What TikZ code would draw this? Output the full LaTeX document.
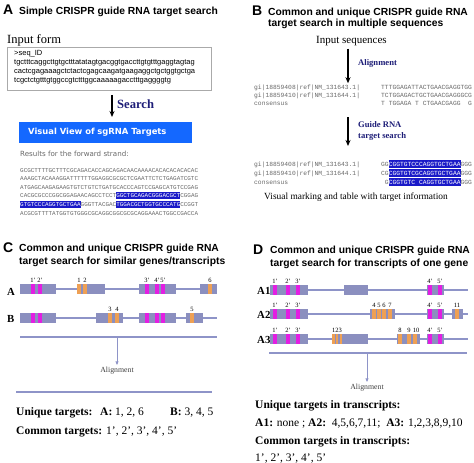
\documentclass[tikz,border=0pt]{standalone}
\usepackage{fontspec}
\setmainfont{Liberation Serif}
\setsansfont{Liberation Sans}
\setmonofont{Liberation Mono}
\newfontfamily\verdana{DejaVu Sans}
\usetikzlibrary{arrows.meta}

\definecolor{exonblue}{RGB}{139,143,191}
\definecolor{trackblue}{RGB}{142,148,200}
\definecolor{commonpink}{RGB}{226,30,226}
\definecolor{uniqueorange}{RGB}{238,160,84}
\definecolor{viewblue}{RGB}{20,104,255}
\definecolor{hitblue}{RGB}{26,26,200}
\definecolor{labelnavy}{RGB}{30,30,120}
\definecolor{seqgray}{RGB}{105,105,105}
\definecolor{boxgray}{RGB}{170,170,170}

\newcommand\hit[1]{{\fboxsep=0pt\colorbox{hitblue}{\rule[-1.5pt]{0pt}{7.3pt}\textcolor{white}{#1}}}}

\tikzset{
  tag/.style={anchor=base west, inner sep=0, font=\sffamily\bfseries\fontsize{14}{14}\selectfont},
  title/.style={anchor=base west, inner sep=0, font=\sffamily\bfseries\fontsize{10.3}{12}\selectfont},
  txt/.style={anchor=base west, inner sep=0},
  formline/.style={txt, font=\sffamily\fontsize{7.5}{7.5}\selectfont},
  seqline/.style={txt, text=seqgray, font=\ttfamily\fontsize{5.93}{5.93}\selectfont},
  alnline/.style={txt, text=seqgray, font=\ttfamily\fontsize{6.3}{6.3}\selectfont},
  steplabel/.style={txt, text=labelnavy, font=\bfseries\fontsize{8.6}{8.6}\selectfont},
  bigarrow/.style={-{Stealth[length=6pt,width=5pt]}, line width=1.1pt},
  exon/.style={fill=exonblue},
  track/.style={draw=trackblue, line width=1.1pt},
  common/.style={fill=commonpink},
  unique/.style={fill=uniqueorange},
  sitelabel/.style={anchor=base, inner sep=0, font=\fontsize{6.5}{6.5}\selectfont},
  rowlabel/.style={txt, font=\bfseries\fontsize{10.8}{10.8}\selectfont},
  alnlabel/.style={anchor=base, inner sep=0, text=black!75, font=\fontsize{7.8}{7.8}\selectfont},
  smallarrow/.style={draw=trackblue, line width=0.9pt, -{Latex[length=4pt,width=3.5pt]}},
  result/.style={txt, font=\fontsize{11.5}{11.5}\selectfont},
  viewbar/.style={anchor=north west, fill=viewblue, text=white, minimum height=21pt,
    text width=155pt, inner xsep=9pt, inner ysep=0, align=left,
    font=\verdana\bfseries\fontsize{8.4}{8.4}\selectfont}
}

\begin{document}
\begin{tikzpicture}[x=1pt,y=-1pt]
  \useasboundingbox[fill=white] (0,0) rectangle (474,463);

  % A: simple search
  \node[tag] (tagA) at (3,14) {A};
  \node[title] (ttlA) at (19,14) {Simple CRISPR guide RNA target search};
  \node[txt, font=\fontsize{12.5}{12.5}\selectfont] (formttl) at (7,43) {Input form};
  \node[draw=boxgray, line width=0.8pt, anchor=north west, minimum width=204pt, minimum height=43pt, inner sep=0] (form) at (7,47) {};
  \foreach \s [count=\i from 0] in {>seq\_ID,
      tgctttcaggcttgtgctttatatagtgacggtgaccttgtgtttgaggtagtag,
      cactcgagaaagctctactcgagcaagatgaagaggctgctggtgctga,
      tcgctctgtttgtggccgtctttggcaaaaagacctttgaggggtg}
    \node[formline] (fl\i) at (14,55+9*\i) {\s};

  \node[viewbar] (view) at (19,122) {Visual View of sgRNA Targets};
  \coordinate (srcharrow) at (112,0);
  \draw[bigarrow, shorten <=4pt, shorten >=5pt] (form.south -| srcharrow) -- (view.north -| srcharrow);
  \node[txt, text=labelnavy, font=\bfseries\fontsize{12.6}{12.6}\selectfont] (srch) at (117,108) {Search};

  \node[txt, text=seqgray, font=\verdana\fontsize{7.1}{7.1}\selectfont] (fwd) at (20,156) {Results for the forward strand:};
  \foreach \s [count=\i from 0] in {GCGCTTTTGCTTTCGCAGACACCAGCAGACAACAAAACACACACACACAC,
      AAAGCTACAAAGGATTTTTTGGAGGCGCGCTCGAATTCTCTGAGATCGTC,
      ATGAGCAAGAGAAGTGTCTGTCTGATGCACCCAGTCCGAGCATGTCCGAG,
      CACGCGCCCGGCGGAGAACAGCCTCCT\hit{GGCTGCAGACGGGACGCT}CGGAG,
      \hit{GTGTCCCAGGTGCTGAA}GGGTTACGAC\hit{TGGACGCTGGTGCCCATG}CCGGT,
      ACGCGTTTTATGGTGTGGGCGCAGGCGGCGCGCAGGAAACTGGCCGACCA}
    \node[seqline] (sq\i) at (20,172+8.6*\i) {\s};

  % B: multiple sequences
  \node[tag] (tagB) at (252,15) {B};
  \node[title] (ttlBa) at (268,15) {Common and unique CRISPR guide RNA};
  \node[title] (ttlBb) at (268,27) {target search in multiple sequences};
  \node[txt, font=\fontsize{11}{11}\selectfont] (insq) at (316,43) {Input sequences};
  \node[steplabel] (alnstep) at (358,65) {Alignment};

  \node[alnline] (gaone) at (254,89) {gi|18859408|ref|NM\_131643.1|};
  \node[alnline] (gatwo) at (254,97) {gi|18859410|ref|NM\_131644.1|};
  \node[alnline] (gacons) at (254,105) {consensus};
  \node[alnline] (saone) at (381,89) {TTTGGAGATTACTGAACGAGGTGG};
  \node[alnline] (satwo) at (381,97) {TCTGGAGACTGCTGAACGAGGGCG};
  \node[alnline] (sacons) at (381,105) {T\ TGGAGA\ T\ CTGAACGAGG\ \ G};

  \coordinate (alnarrow) at (348,0);
  \draw[bigarrow, shorten <=3pt, shorten >=1pt] (insq.south -| alnarrow) -- (gaone.north -| alnarrow);

  \node[steplabel] (gsone) at (358,127) {Guide RNA};
  \node[steplabel] (gstwo) at (358,138) {target search};

  \node[alnline] (gbone) at (254,166) {gi|18859408|ref|NM\_131643.1|};
  \node[alnline] (gbtwo) at (254,175) {gi|18859410|ref|NM\_131644.1|};
  \node[alnline] (gbcons) at (254,184) {consensus};
  \node[alnline] (sbone) at (381,166) {GG\hit{CGGTGTCCCAGGTGCTGAA}GGG};
  \node[alnline] (sbtwo) at (381,175) {CG\hit{CGGTGTCGCAGGTGCTGAA}GGG};
  \node[alnline] (sbcons) at (381,184) {\ G\hit{CGGTGTC\ CAGGTGCTGAA}GGG};
  \draw[bigarrow, shorten <=12pt, shorten >=14pt] (sacons.south -| alnarrow) -- (sbone.north -| alnarrow);

  \node[txt, font=\fontsize{9.4}{9.4}\selectfont] (marking) at (264,199) {Visual marking and table with target information};

  % C: similar genes
  \node[tag] (tagC) at (3,252) {C};
  \node[title] (ttlCa) at (19,251) {Common and unique CRISPR guide RNA};
  \node[title] (ttlCb) at (19,264) {target search for similar genes/transcripts};

  \node[rowlabel] (rowA) at (7,295) {A};
  \draw[track] (20,289) -- (217,289);
  \foreach \a/\b in {20/56,77/105,139/176,200/217}
    \fill[exon] (\a,284) rectangle (\b,294);
  \foreach \x in {33,40,147,157,163}
    \fill[common] (\x-1.8,284) rectangle (\x+1.8,294);
  \foreach \x in {79,85,210}
    \fill[unique] (\x-1.8,284) rectangle (\x+1.8,294);
  \foreach \x/\t [count=\k] in {33/1',40/2',79/1,85/2,147/3',157/4',163/5',210/6}
    \node[sitelabel] (siteA\k) at (\x,282) {\t};

  \node[rowlabel] (rowB) at (7,322) {B};
  \draw[track] (20,318) -- (217,318);
  \foreach \a/\b in {20/56,96/123,139/176,186/203}
    \fill[exon] (\a,313) rectangle (\b,323);
  \foreach \x in {33,40,147,157,163}
    \fill[common] (\x-1.8,313) rectangle (\x+1.8,323);
  \foreach \x in {110,117,192}
    \fill[unique] (\x-1.8,313) rectangle (\x+1.8,323);
  \foreach \x/\t [count=\k] in {110/3,117/4,192/5}
    \node[sitelabel] (siteB\k) at (\x,311) {\t};

  \draw[track] (20,337) -- (217,337);
  \coordinate (brC) at (117,337);
  \node[alnlabel] (alnC) at (117,372) {Alignment};
  \draw[smallarrow, shorten >=1pt] (brC) -- (alnC.north);
  \draw[track, line width=2pt] (16,392) -- (212,392);

  \node[result] (uniqC) at (16,415) {\textbf{Unique targets:}};
  \node[result] (uniqCA) at (100,415) {\textbf{A:} 1, 2, 6};
  \node[result] (uniqCB) at (170,415) {\textbf{B:} 3, 4, 5};
  \node[result] (commC) at (16,434) {\textbf{Common targets:}};
  \node[result] (commClist) at (106,434) {1', 2', 3', 4', 5'};

  % D: transcripts of one gene
  \node[tag] (tagD) at (253,254) {D};
  \node[title] (ttlDa) at (270,253) {Common and unique CRISPR guide RNA};
  \node[title] (ttlDb) at (270,266) {target search for transcripts of one gene};

  \foreach \y/\r [count=\n] in {290/A1,314/A2,339/A3} {
    \node[rowlabel] (row\n) at (257,\y+4) {\r};
    \draw[track] (270,\y) -- (468,\y);
    \fill[exon] (270,\y-5) rectangle (308,\y+5);
    \fill[exon] (427,\y-5) rectangle (444,\y+5);
    \foreach \x in {275,288,298,430,440}
      \fill[common] (\x-1.8,\y-5) rectangle (\x+1.8,\y+5);
    \foreach \x/\t [count=\k] in {275/1',288/2',298/3',430/4',440/5'}
      \node[sitelabel] (siteD\n\k) at (\x,\y-7) {\t};
  }
  % A1
  \fill[exon] (344,285) rectangle (368,295);
  % A2
  \fill[exon] (370,309) rectangle (395,319);
  \fill[exon] (452,309) rectangle (463,319);
  \foreach \x in {374,379,384,390,457}
    \fill[unique] (\x-1.8,309) rectangle (\x+1.8,319);
  \foreach \x/\t [count=\k] in {374/4,379/5,384/6,390/7,457/11}
    \node[sitelabel] (siteE\k) at (\x,307) {\t};
  % A3
  \fill[exon] (332,334) rectangle (368,344);
  \fill[exon] (397,334) rectangle (420,344);
  \foreach \x in {333.3,337,340.7}
    \fill[unique] (\x-1.2,334) rectangle (\x+1.2,344);
  \foreach \x in {400,409,415}
    \fill[unique] (\x-1.8,334) rectangle (\x+1.8,344);
  \foreach \x/\t [count=\k] in {337/123,400/8,409/9,416/10}
    \node[sitelabel] (siteF\k) at (\x,332) {\t};

  \draw[track] (269,353) -- (467,353);
  \coordinate (brD) at (367,353);
  \node[alnlabel] (alnD) at (367,389) {Alignment};
  \draw[smallarrow, shorten >=1pt] (brD) -- (alnD.north);

  \node[result] (uniqD) at (255,408) {\textbf{Unique targets in transcripts:}};
  \node[result] (uniqDlist) at (255,426) {\textbf{A1:} none ; \textbf{A2:}\ \ 4,5,6,7,11;\ \ \textbf{A3:} 1,2,3,8,9,10};
  \node[result] (commD) at (255,444) {\textbf{Common targets in transcripts:}};
  \node[result] (commDlist) at (255,461) {1', 2', 3', 4', 5'};
\end{tikzpicture}
\end{document}
